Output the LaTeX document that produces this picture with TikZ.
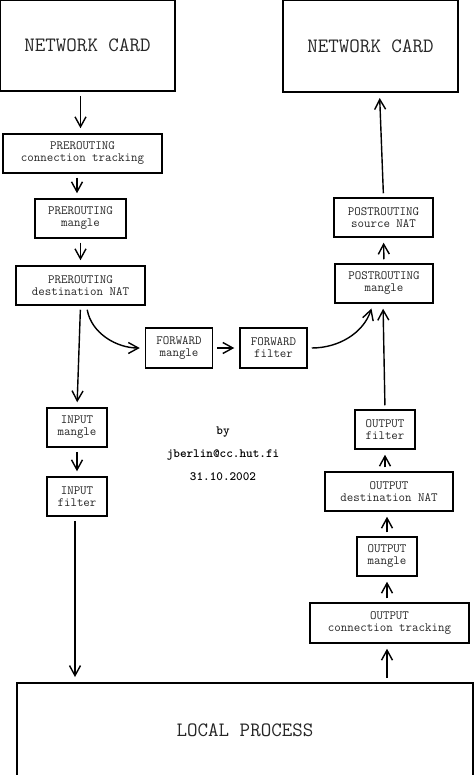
\documentclass[tikz,border=0pt]{standalone}
\usepackage{fontspec}
\usepackage{tikz}
\usetikzlibrary{arrows.meta}

\begin{document}
\begin{tikzpicture}[x=1pt,y=-1pt,shorten >=5pt,shorten <=4pt,line width=1.4pt,
		>={Straight Barb[length=10pt,width=11pt]}]
		\tikzstyle{chainbox}=[draw,line width=1.5pt,minimum height=39pt,inner sep=0pt,align=center,text=black!85,font=\ttfamily\fontsize{12.6}{12}\selectfont]
		\tikzstyle{bigbox}=[draw,line width=2pt,inner sep=0pt,text=black!85,font=\ttfamily\fontsize{20.4}{22}\selectfont]
		\tikzstyle{credit}=[font=\ttfamily\bfseries\fontsize{12.6}{13}\selectfont]
		
		\useasboundingbox (0,0) rectangle (474,775);
		
		\node[bigbox,minimum width=175pt,minimum height=91pt] (nc_in) at (87.5,45.5) {NETWORK CARD};
		\node[bigbox,minimum width=175pt,minimum height=92pt] (nc_out) at (370.5,46) {NETWORK CARD};
		\node[bigbox,minimum width=456pt,minimum height=94pt] (local) at (245,730) {LOCAL PROCESS};
		
		\node[chainbox,minimum width=159pt] (pre_ct) at (82.5,153.5) {PREROUTING\\connection tracking};
		\node[chainbox,minimum width=91pt] (pre_mangle) at (80.5,218.5) {PREROUTING\\mangle};
		\node[chainbox,minimum width=129pt] (pre_nat) at (80.5,285.5) {PREROUTING\\destination NAT};
		
		\node[chainbox,minimum width=67pt,minimum height=40pt] (fw_mangle) at (179,348) {FORWARD\\mangle};
		\node[chainbox,minimum width=67pt,minimum height=40pt] (fw_filter) at (273.5,348) {FORWARD\\filter};
		
		\node[chainbox,minimum width=60pt] (in_mangle) at (77,427.5) {INPUT\\mangle};
		\node[chainbox,minimum width=60pt] (in_filter) at (77,496.5) {INPUT\\filter};
		
		\node[chainbox,minimum width=159pt,minimum height=40pt] (out_ct) at (389.5,623) {OUTPUT\\connection tracking};
		\node[chainbox,minimum width=60pt] (out_mangle) at (387,556.5) {OUTPUT\\mangle};
		\node[chainbox,minimum width=128pt] (out_nat) at (389,491.5) {OUTPUT\\destination NAT};
		\node[chainbox,minimum width=60pt] (out_filter) at (385,429.5) {OUTPUT\\filter};
		
		\node[chainbox,minimum width=98pt] (post_mangle) at (384,283.5) {POSTROUTING\\mangle};
		\node[chainbox,minimum width=99pt] (post_nat) at (383.5,217.5) {POSTROUTING\\source NAT};
		
		\node[credit] (by) at (223,432) {by};
		\node[credit] (mail) at (223,455) {jberlin@cc.hut.fi};
		\node[credit] (date) at (223,477) {31.10.2002};
		
		\path[->]
		(nc_in.south -| pre_mangle) edge (pre_ct.north -| pre_mangle)
		(pre_ct.south -| in_mangle) edge (pre_mangle.north -| in_mangle)
		(pre_mangle.south -| pre_nat) edge (pre_nat.north)
		
		(pre_nat.south) edge (in_mangle.north)
		([xshift=6pt]pre_nat.south) edge [out=-80,in=180] (fw_mangle.west)
		
		(in_mangle) edge (in_filter)
		([xshift=-2pt]in_filter.south) edge ([xshift=-2pt]in_filter.south |- local.north)
		
		(fw_mangle) edge (fw_filter)
		(fw_filter.east) edge [out=0,in=-108] ([xshift=-11pt]post_mangle.south)
		
		(local.north -| out_mangle) edge (out_ct.south -| out_mangle)
		(out_ct.north -| out_mangle) edge (out_mangle.south)
		(out_mangle.north) edge (out_nat.south -| out_mangle)
		(out_nat.north -| out_filter) edge (out_filter.south)
		(out_filter.north) edge ([xshift=-1pt]post_mangle.south)
		
		(post_mangle.north) edge (post_nat.south)
		(post_nat.north) edge ([xshift=-4pt]post_nat.north |- nc_out.south);
		
	\end{tikzpicture}
\end{document}
